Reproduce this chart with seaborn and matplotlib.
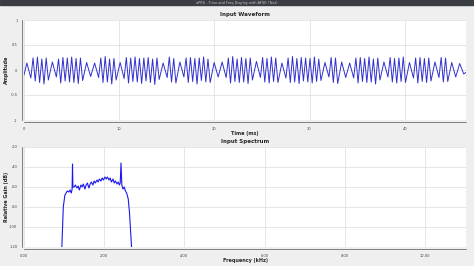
import numpy as np
import pandas as pd
import matplotlib
matplotlib.use("Agg")
import matplotlib.pyplot as plt
import seaborn as sns

# waveform extrema (time in ms, amplitude)
wave_t = [0.00, 0.30, 0.72, 0.95, 1.18, 1.41, 1.64, 1.87, 2.10, 2.33, 2.56, 2.98, 3.40,
          3.63, 3.86, 4.09, 4.32, 4.55, 4.78, 5.01, 5.24, 5.47, 5.70, 5.93, 6.16, 6.58, 7.00,
          7.42, 7.84, 8.07, 8.30, 8.53, 8.76, 8.99, 9.22, 9.45, 9.68, 10.10, 10.52,
          10.75, 10.98, 11.21, 11.44, 11.67, 11.90, 12.13, 12.36, 12.59, 12.82, 13.05, 13.28,
          13.51, 13.74, 13.97, 14.20, 14.62, 15.04, 15.27, 15.50, 15.73, 15.96, 16.38, 16.80,
          17.03, 17.26, 17.49, 17.72, 17.95, 18.18, 18.41, 18.64, 18.87, 19.10, 19.33, 19.56,
          19.98, 20.40, 20.82, 21.24, 21.47, 21.70, 21.93, 22.16, 22.39, 22.62, 22.85, 23.08,
          23.31, 23.54, 23.77, 24.00, 24.42, 24.84, 25.07, 25.30, 25.53, 25.76, 25.99, 26.22,
          26.45, 26.68, 27.10, 27.52, 27.75, 27.98, 28.21, 28.44, 28.67, 28.90, 29.13, 29.36,
          29.59, 29.82, 30.05, 30.28, 30.51, 30.74, 30.97, 31.20, 31.62, 32.04, 32.27, 32.50,
          32.73, 32.96, 33.38, 33.80, 34.22, 34.64, 34.87, 35.10, 35.33, 35.56, 35.79, 36.02,
          36.25, 36.48, 36.71, 36.94, 37.17, 37.40, 37.82, 38.24, 38.47, 38.70, 38.93, 39.16,
          39.39, 39.62, 39.85, 40.08, 40.50, 40.92, 41.15, 41.38, 41.61, 41.84, 42.07, 42.30,
          42.53, 42.76, 43.18, 43.60, 43.83, 44.06, 44.29, 44.52, 44.94, 45.36, 45.78, 46.20,
          46.40]
wave_v = [-0.10, 0.14, -0.16, 0.24, -0.22, 0.26, -0.25, 0.22, -0.28, 0.24, -0.20, 0.16, -0.14,
          0.22, -0.26, 0.25, -0.22, 0.24, -0.24, 0.26, -0.25, 0.23, -0.27, 0.24, -0.21, 0.15, -0.13,
          0.14, -0.15, 0.24, -0.25, 0.27, -0.24, 0.22, -0.28, 0.23, -0.20, 0.15, -0.17,
          0.25, -0.26, 0.24, -0.23, 0.26, -0.24, 0.23, -0.27, 0.24, -0.22, 0.25, -0.25,
          0.22, -0.29, 0.24, -0.19, 0.14, -0.15, 0.26, -0.24, 0.23, -0.26, 0.16, -0.14,
          0.24, -0.25, 0.25, -0.23, 0.23, -0.28, 0.24, -0.21, 0.26, -0.24, 0.22, -0.25,
          0.15, -0.14, 0.16, -0.15, 0.24, -0.26, 0.27, -0.23, 0.22, -0.25, 0.25, -0.24,
          0.23, -0.27, 0.24, -0.20, 0.17, -0.15, 0.25, -0.24, 0.23, -0.26, 0.26, -0.23,
          0.24, -0.25, 0.14, -0.16, 0.24, -0.25, 0.27, -0.24, 0.23, -0.27, 0.25, -0.22,
          0.24, -0.24, 0.23, -0.26, 0.26, -0.23, 0.22, -0.21, 0.15, -0.14, 0.25, -0.25,
          0.24, -0.27, 0.16, -0.15, 0.14, -0.16, 0.24, -0.26, 0.25, -0.23, 0.23, -0.25,
          0.26, -0.24, 0.22, -0.28, 0.24, -0.20, 0.16, -0.14, 0.25, -0.24, 0.23, -0.26,
          0.24, -0.23, 0.26, -0.25, 0.15, -0.16, 0.24, -0.26, 0.25, -0.23, 0.23, -0.25,
          0.24, -0.22, 0.16, -0.15, 0.25, -0.24, 0.24, -0.23, 0.15, -0.14, 0.13, -0.08,
          -0.05]

# spectrum (kHz, dB)
spec_f = [0.94, 0.98, 1.02, 1.05, 1.08, 1.12, 1.15, 1.18, 1.20, 1.21, 1.22, 1.25, 1.28, 1.32,
          1.35, 1.38, 1.42, 1.45, 1.48, 1.52, 1.55, 1.58, 1.62, 1.65, 1.68, 1.72, 1.75, 1.78,
          1.82, 1.85, 1.88, 1.92, 1.95, 1.98, 2.02, 2.05, 2.08, 2.12, 2.15, 2.18, 2.22, 2.25,
          2.28, 2.32, 2.35, 2.38, 2.40, 2.42, 2.44, 2.47, 2.50, 2.53, 2.56, 2.60, 2.63, 2.66,
          2.69]
spec_db = [-125, -80, -68, -66, -64, -65, -63, -66, -62, -37, -60, -60, -58, -61,
           -59, -63, -58, -60, -57, -62, -58, -56, -61, -57, -55, -58, -54, -56,
           -53, -55, -52, -54, -51, -53, -50, -52, -50, -53, -51, -55, -52, -56,
           -54, -57, -55, -58, -56, -36, -58, -62, -60, -64, -66, -72, -85, -105,
           -125]

wave_df = pd.DataFrame({"t": wave_t, "v": wave_v})
spec_df = pd.DataFrame({"f": spec_f, "db": spec_db})

sns.set_style("white")
plt.rcParams['font.family'] = ['DejaVu Sans']

fig = plt.figure(figsize=(4.74, 2.66), dpi=100)
fig.patch.set_facecolor("#efefef")

# window title bar
fig.add_artist(plt.Rectangle((0, 1 - 5 / 266), 1, 5 / 266, transform=fig.transFigure,
                             color="#3a3d42", zorder=0))
fig.text(0.5, 1 - 2.6 / 266, "aPRS - Time and Freq Display with AFSK (Test)",
         ha="center", va="center", fontsize=2.5, color="#c8c8c8")

ax1 = fig.add_axes([24 / 474, 1 - 120 / 266, 442 / 474, 100 / 266])
ax2 = fig.add_axes([24 / 474, 1 - 247 / 266, 442 / 474, 100 / 266])

sns.lineplot(data=wave_df, x="t", y="v", ax=ax1, sort=False, estimator=None,
             color="#3030d0", linewidth=0.7)
sns.lineplot(data=spec_df, x="f", y="db", ax=ax2, sort=False, estimator=None,
             color="#1a1aee", linewidth=0.8)

ax1.set_xlim(0, 46.44)
ax1.set_ylim(-1, 1)
ax1.set_xticks([0, 10, 20, 30, 40])
ax1.set_xticklabels(["0", "10", "20", "30", "40"])
ax1.set_yticks([1, 0.5, 0, -0.5, -1])
ax1.set_yticklabels(["1", "0.5", "0", "-0.5", "-1"])
ax1.set_title("Input Waveform", fontsize=4, fontweight="bold", pad=3)
ax1.set_xlabel("Time (ms)", fontsize=3.5, fontweight="bold", labelpad=0.5)
ax1.set_ylabel("Amplitude", fontsize=3.5, fontweight="bold")

ax2.set_xlim(0, 11.025)
ax2.set_ylim(-120, -20)
ax2.set_xticks([0, 2, 4, 6, 8, 10])
ax2.set_xticklabels(["0.00", "2.00", "4.00", "6.00", "8.00", "10.00"])
ax2.set_yticks([-20, -40, -60, -80, -100, -120])
ax2.set_yticklabels(["-20", "-40", "-60", "-80", "-100", "-120"])
ax2.set_title("Input Spectrum", fontsize=4, fontweight="bold", pad=3)
ax2.set_xlabel("Frequency (kHz)", fontsize=3.5, fontweight="bold", labelpad=0.5)
ax2.set_ylabel("Relative Gain (dB)", fontsize=3.5, fontweight="bold")

for ax in (ax1, ax2):
    ax.set_facecolor("white")
    ax.grid(True, color="#dcdcdc", linewidth=0.5)
    ax.minorticks_on()
    ax.grid(False, which="minor")
    ax.tick_params(which="major", labelsize=2.6, length=2, width=0.4, pad=1.2, colors="#444444")
    ax.tick_params(which="minor", length=1, width=0.3, colors="#444444")
    for s in ax.spines.values():
        s.set_visible(False)
    ax.spines["left"].set_visible(True)
    ax.spines["bottom"].set_visible(True)
    ax.spines["left"].set_color("#555555")
    ax.spines["bottom"].set_color("#555555")
    ax.spines["left"].set_linewidth(0.5)
    ax.spines["bottom"].set_linewidth(0.5)
    ax.spines["left"].set_position(("outward", 1.5))
    ax.spines["bottom"].set_position(("outward", 1.5))
    ax.yaxis.set_label_coords(-0.034, 0.5)

fig.savefig("out.png", dpi=100, facecolor=fig.get_facecolor())
